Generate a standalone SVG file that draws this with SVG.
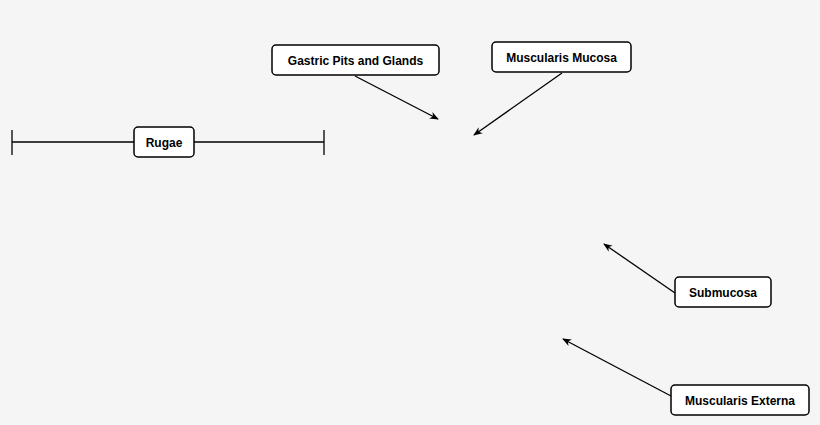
<svg xmlns="http://www.w3.org/2000/svg" width="820" height="425" viewBox="0 0 820 425">
<style>
.b{fill:#fff;stroke:#000;stroke-width:1.5}
.t{font-family:"Liberation Sans",Arial,sans-serif;font-size:12px;font-weight:bold;text-anchor:middle}
.c{stroke:#000;stroke-width:1.3;fill:none}
</style>
<defs><marker id="a" viewBox="0 0 10 10" refX="9" refY="5" markerWidth="7" markerHeight="7" orient="auto"><path d="M0,1 L10,5 L0,9 L3,5 z" fill="#000"/></marker></defs>
<rect width="820" height="425" fill="#f5f5f5"/>
<g id="connectors">
<path class="c" d="M12,142 H134 M194,142 H324 M12,130 V155 M324,130 V155"/>
<path class="c" d="M355,76 L438,119" marker-end="url(#a)"/>
<path class="c" d="M562,73 L474,135" marker-end="url(#a)"/>
<path class="c" d="M675,293 L604,244" marker-end="url(#a)"/>
<path class="c" d="M671,396 L563,339" marker-end="url(#a)"/>
</g>
<g id="gastric"><rect class="b" x="272" y="45" width="167" height="30" rx="4"/><text class="t" x="355.5" y="64.5">Gastric Pits and Glands</text></g>
<g id="mucosa"><rect class="b" x="492" y="42" width="139" height="30" rx="4"/><text class="t" x="561.5" y="61.5">Muscularis Mucosa</text></g>
<g id="rugae"><rect class="b" x="134" y="127" width="60" height="30" rx="4"/><text class="t" x="164" y="146.5">Rugae</text></g>
<g id="submucosa"><rect class="b" x="675" y="277" width="96" height="30" rx="4"/><text class="t" x="723" y="296.5">Submucosa</text></g>
<g id="externa"><rect class="b" x="671" y="385" width="138" height="30" rx="4"/><text class="t" x="740" y="404.5">Muscularis Externa</text></g>
</svg>
